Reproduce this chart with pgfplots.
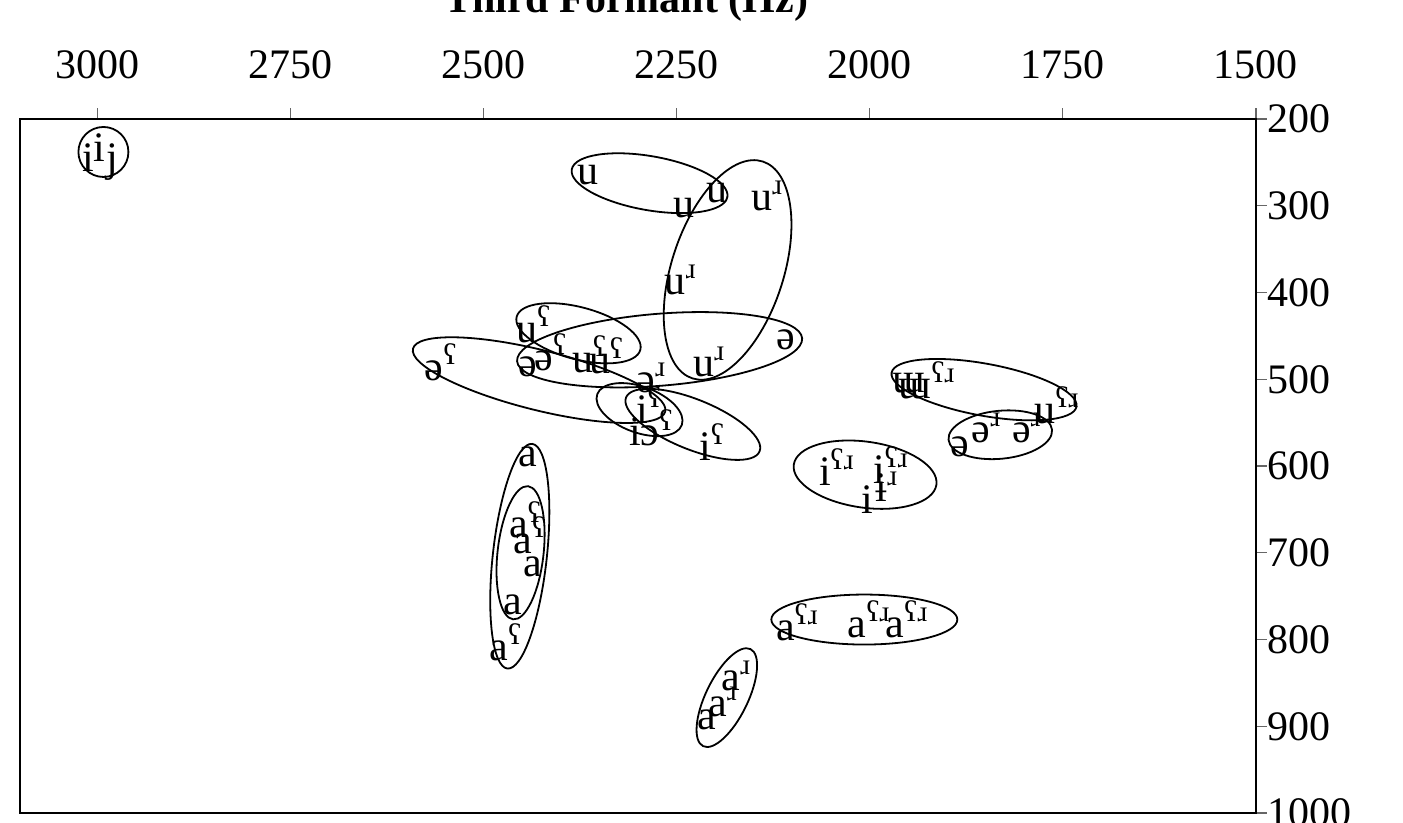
\documentclass[border=0pt]{standalone}
\usepackage{fontspec}
\setmainfont{Liberation Serif}
\usepackage{pgfplots}
\pgfplotsset{compat=1.18}
\newcommand{\s}[1]{\textsuperscript{#1}}
\begin{document}
\begin{tikzpicture}[font=\fontsize{10.5}{12.6}\selectfont]
\begin{axis}[name=ax, scale only axis, width=309pt, height=173.5pt,
 xmin=1500, xmax=3100, ymin=200, ymax=1000, x dir=reverse, y dir=reverse,
 xtick={1500,1750,...,3000}, ytick={200,300,...,1000},
 xticklabel pos=right, yticklabel pos=right, xtick pos=right, ytick pos=right,
 tick align=outside, major tick length=2.75pt,
 xticklabel style={yshift=3.75pt},
 yticklabel style={xshift=-3.5pt},
 axis line style={line width=0.5pt}, tick style={line width=0.3pt, black!60},
 /pgf/number format/assume math mode=true, /pgf/number format/1000 sep={},
 every node near coord/.append style={anchor=center, inner sep=0pt},
 clip=false]
\addplot[draw=none, mark=none, nodes near coords, point meta=explicit symbolic] coordinates {
 (3012,245) [i]
 (2997,233) [i]
 (2981,250) [j]
 (2365,265) [u]
 (2240,303) [u]
 (2198,285) [u]
 (2132,289) [u\s{ɹ}]
 (2244,386) [u\s{ɹ}]
 (2207,480) [u\s{ɹ}]
 (2108,455) [ə]
 (2434,437) [u\s{ʕ}]
 (2443,486) [ə]
 (2412,469) [ə\s{ʕ}]
 (2362,471) [u\s{ʕ}]
 (2340,473) [u\s{ʕ}]
 (2554,480) [ə\s{ʕ}]
 (2282,499) [ə\s{ɹ}]
 (2285,530) [i\s{ʕ}]
 (2282,556) [iɔ\s{ʕ}]
 (2203,572) [i\s{ʕ}]
 (2443,590) [a]
 (2445,662) [a\s{ʕ}]
 (2439,680) [a\s{ʕ}]
 (2436,716) [a]
 (2462,760) [a]
 (2470,803) [a\s{ʕ}]
 (2211,893) [a]
 (2189,872) [a\s{ɹ}]
 (2172,842) [a\s{ɹ}]
 (2093,780) [a\s{ʕɹ}]
 (2000,777) [a\s{ʕɹ}]
 (1951,777) [a\s{ʕɹ}]
 (2042,601) [i\s{ʕɹ}]
 (1972,599) [i\s{ʕɹ}]
 (1977,624) [ɨ\s{ɹ}]
 (2003,639) [i]
 (1949,505) [ɯ]
 (1925,501) [ɯ\s{ʕɹ}]
 (1757,530) [u\s{ʕɹ}]
 (1884,578) [ə]
 (1848,556) [ə\s{ɹ}]
 (1796,556) [ə\s{ɹ}]
};
\begin{scope}[line width=0.45pt]
\draw (axis cs:2992,238) circle[radius=6.25pt];
\draw (axis cs:2285,274) circle[x radius=19.75pt, y radius=6.75pt, rotate=-10];
\draw (axis cs:2184,374) circle[x radius=14pt, y radius=28.5pt, rotate=-18];
\draw (axis cs:2428,501) circle[x radius=32.5pt, y radius=7.5pt, rotate=-14];
\draw (axis cs:2272,466) circle[x radius=35.75pt, y radius=9pt, rotate=4.6];
\draw (axis cs:2377,447) circle[x radius=16pt, y radius=6.5pt, rotate=-15];
\draw (axis cs:2298,535) circle[x radius=11.25pt, y radius=5.75pt, rotate=-20];
\draw (axis cs:2229,552) circle[x radius=18pt, y radius=6.25pt, rotate=-22];
\draw (axis cs:2453,704) circle[x radius=6.75pt, y radius=28.25pt, rotate=-6.3];
\draw (axis cs:2452,700) circle[x radius=5.75pt, y radius=16.75pt, rotate=-6.4];
\draw (axis cs:2185,867) circle[x radius=5.25pt, y radius=13.5pt, rotate=-26];
\draw (axis cs:2007,777) circle[x radius=23.25pt, y radius=6.25pt];
\draw (axis cs:2006,610) circle[x radius=18pt, y radius=8.25pt, rotate=-8];
\draw (axis cs:1852,512) circle[x radius=23.5pt, y radius=6.5pt, rotate=-10.4];
\draw (axis cs:1831,564) circle[x radius=13pt, y radius=6pt, rotate=5.5];
\end{scope}
\end{axis}
\node[anchor=base, font=\fontsize{10.5}{12.6}\selectfont\bfseries] at ([xshift=-3pt,yshift=26.5pt]ax.north) {Third Formant (Hz)};
\pgfresetboundingbox
\path[use as bounding box] ([xshift=-5pt,yshift=-2.5pt]ax.south west) rectangle ([xshift=345.75pt,yshift=29.75pt]ax.north west);
\end{tikzpicture}
\end{document}
